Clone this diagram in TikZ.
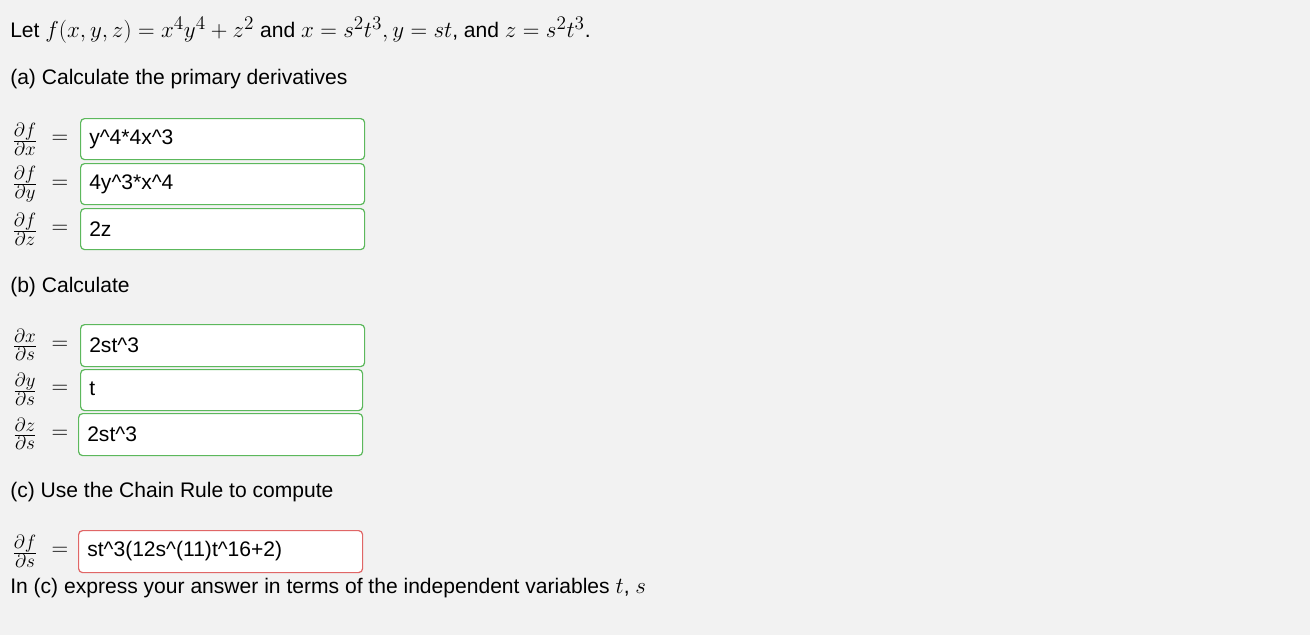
\documentclass[tikz,border=0pt]{standalone}
\usepackage{fontspec}
\setmainfont{Liberation Sans}
\definecolor{bg}{HTML}{F2F2F2}
\definecolor{okc}{HTML}{5CB85C}
\definecolor{badc}{HTML}{E06666}
\newcommand{\bm}[1]{{\fontsize{19}{20}\selectfont$#1$}}
\begin{document}
\begin{tikzpicture}[x=0.75pt,y=-0.75pt,
  txt/.style={anchor=west,inner sep=0pt,font=\fontsize{15.8}{18}\selectfont},
  ansbox/.style={draw=#1,line width=0.9pt,rounded corners=3pt,fill=white,anchor=north west,inner sep=0pt},
  frc/.style={inner sep=0pt,font=\fontsize{19}{20}\selectfont},
  eqs/.style={inner sep=0pt,font=\fontsize{17}{18}\selectfont}]
\fill[bg] (0,0) rectangle (1310,635);
\useasboundingbox (0,0) rectangle (1310,635);
\node[txt] (l1) at (10,30) {Let \bm{f(x,y,z)=x^4y^4+z^2} and \bm{x=s^2t^3, y=st}, and \bm{z=s^2t^3}.};
\node[txt] (ha) at (10,79) {(a) Calculate the primary derivatives};
\node[frc] (fa1) at (25,139) {$\frac{\partial f}{\partial x}$};
\node[eqs] (ea1) at (60,139) {$=$};
\node[ansbox=okc,minimum width=284*0.75pt,minimum height=41*0.75pt] (ba1) at (80,118) {};
\node[txt] (ta1) at (89,139) {y\^{}4*4x\^{}3};
\node[frc] (fa2) at (25,184) {$\frac{\partial f}{\partial y}$};
\node[eqs] (ea2) at (60,184) {$=$};
\node[ansbox=okc,minimum width=284*0.75pt,minimum height=41*0.75pt] (ba2) at (80,163) {};
\node[txt] (ta2) at (89,184) {4y\^{}3*x\^{}4};
\node[frc] (fa3) at (25,229) {$\frac{\partial f}{\partial z}$};
\node[eqs] (ea3) at (60,229) {$=$};
\node[ansbox=okc,minimum width=284*0.75pt,minimum height=41*0.75pt] (ba3) at (80,208) {};
\node[txt] (ta3) at (89,229) {2z};
\node[txt] (hb) at (10,287) {(b) Calculate};
\node[frc] (fb1) at (25,345) {$\frac{\partial x}{\partial s}$};
\node[eqs] (eb1) at (60,345) {$=$};
\node[ansbox=okc,minimum width=284*0.75pt,minimum height=42*0.75pt] (bb1) at (80,324) {};
\node[txt] (tb1) at (89,345) {2st\^{}3};
\node[frc] (fb2) at (25,389) {$\frac{\partial y}{\partial s}$};
\node[eqs] (eb2) at (60,389) {$=$};
\node[ansbox=okc,minimum width=282*0.75pt,minimum height=41*0.75pt] (bb2) at (80,369) {};
\node[txt] (tb2) at (89,389) {t};
\node[frc] (fb3) at (25,434) {$\frac{\partial z}{\partial s}$};
\node[eqs] (eb3) at (60,434) {$=$};
\node[ansbox=okc,minimum width=284*0.75pt,minimum height=42*0.75pt] (bb3) at (78,413) {};
\node[txt] (tb3) at (87,434) {2st\^{}3};
\node[txt] (hc) at (10,492) {(c) Use the Chain Rule to compute};
\node[frc] (fc1) at (25,551) {$\frac{\partial f}{\partial s}$};
\node[eqs] (ec1) at (60,551) {$=$};
\node[ansbox=badc,minimum width=284*0.75pt,minimum height=42*0.75pt] (bc1) at (78,530) {};
\node[txt] (tc1) at (87,551) {st\^{}3(12s\^{}(11)t\^{}16+2)};
\node[txt] (nt) at (10,588) {In (c) express your answer in terms of the independent variables \bm{t}, \bm{s}};
\end{tikzpicture}
\end{document}
